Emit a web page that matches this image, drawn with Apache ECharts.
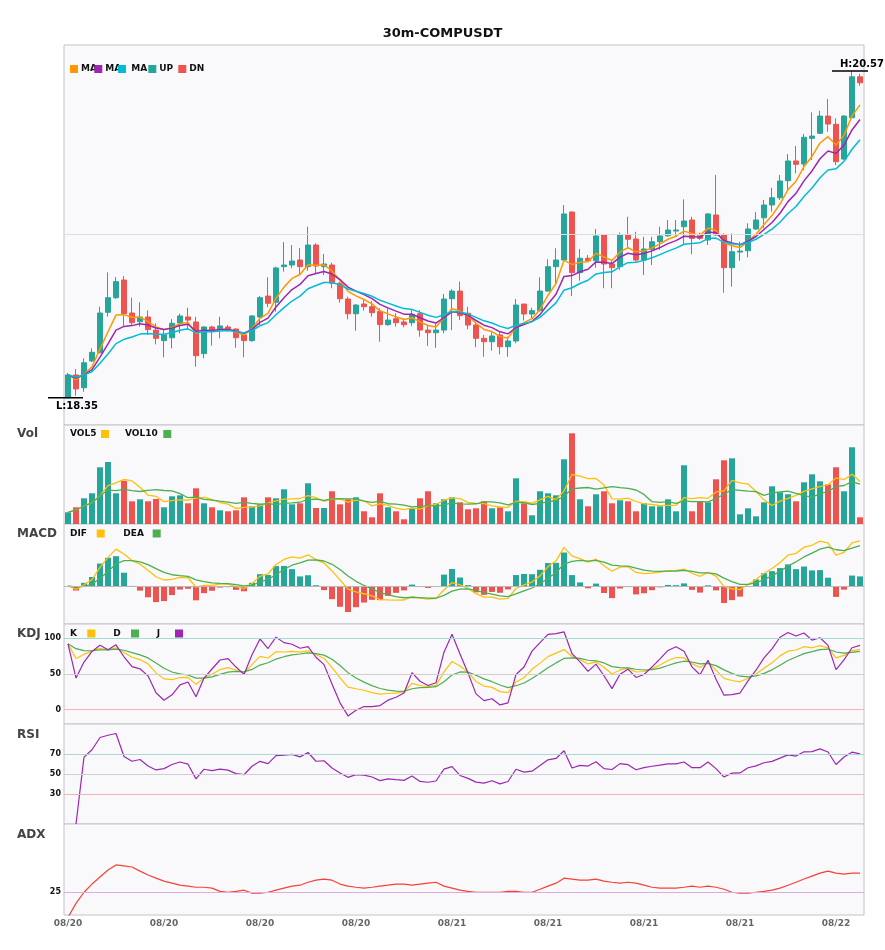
<!DOCTYPE html>
<html><head><meta charset="utf-8">
<script src="https://cdn.jsdelivr.net/npm/echarts@6/dist/echarts.min.js"></script>
<style>html,body{margin:0;padding:0;background:#fff}#c{width:885px;height:950px}</style>
</head><body><div id="c"></div>
<script>
const times = [
'08/20 02:00','08/20 02:30','08/20 03:00','08/20 03:30','08/20 04:00','08/20 04:30','08/20 05:00','08/20 05:30','08/20 06:00','08/20 06:30',
'08/20 07:00','08/20 07:30','08/20 08:00','08/20 08:30','08/20 09:00','08/20 09:30','08/20 10:00','08/20 10:30','08/20 11:00','08/20 11:30',
'08/20 12:00','08/20 12:30','08/20 13:00','08/20 13:30','08/20 14:00','08/20 14:30','08/20 15:00','08/20 15:30','08/20 16:00','08/20 16:30',
'08/20 17:00','08/20 17:30','08/20 18:00','08/20 18:30','08/20 19:00','08/20 19:30','08/20 20:00','08/20 20:30','08/20 21:00','08/20 21:30',
'08/20 22:00','08/20 22:30','08/20 23:00','08/20 23:30','08/21 00:00','08/21 00:30','08/21 01:00','08/21 01:30','08/21 02:00','08/21 02:30',
'08/21 03:00','08/21 03:30','08/21 04:00','08/21 04:30','08/21 05:00','08/21 05:30','08/21 06:00','08/21 06:30','08/21 07:00','08/21 07:30',
'08/21 08:00','08/21 08:30','08/21 09:00','08/21 09:30','08/21 10:00','08/21 10:30','08/21 11:00','08/21 11:30','08/21 12:00','08/21 12:30',
'08/21 13:00','08/21 13:30','08/21 14:00','08/21 14:30','08/21 15:00','08/21 15:30','08/21 16:00','08/21 16:30','08/21 17:00','08/21 17:30',
'08/21 18:00','08/21 18:30','08/21 19:00','08/21 19:30','08/21 20:00','08/21 20:30','08/21 21:00','08/21 21:30','08/21 22:00','08/21 22:30',
'08/21 23:00','08/21 23:30','08/22 00:00','08/22 00:30','08/22 01:00','08/22 01:30','08/22 02:00','08/22 02:30','08/22 03:00','08/22 03:30'];

const opens = [
18.350,18.505,18.418,18.600,18.656,18.931,19.030,19.150,18.926,18.867,
18.899,18.810,18.738,18.758,18.858,18.899,18.865,18.650,18.831,18.817,
18.831,18.817,18.777,18.738,18.899,19.041,18.999,19.241,19.252,19.286,
19.241,19.388,19.241,19.252,19.128,19.021,18.921,18.987,18.969,18.937,
18.847,18.887,18.865,18.860,18.921,18.810,18.792,18.810,19.023,19.075,
18.924,18.844,18.754,18.731,18.777,18.697,18.736,18.987,18.919,18.942,
19.075,19.241,19.286,19.612,19.200,19.298,19.281,19.456,19.259,19.241,
19.456,19.429,19.286,19.359,19.410,19.451,19.483,19.512,19.558,19.456,
19.422,19.592,19.456,19.234,19.340,19.349,19.497,19.573,19.660,19.709,
19.825,19.959,19.938,20.113,20.147,20.264,20.208,19.972,20.253,20.531];

const closes = [
18.505,18.410,18.588,18.659,18.926,19.030,19.139,18.921,18.860,18.899,
18.813,18.754,18.777,18.856,18.906,18.878,18.636,18.831,18.804,18.838,
18.819,18.758,18.738,18.906,19.030,18.992,19.232,19.252,19.279,19.241,
19.388,19.245,19.259,19.128,19.023,18.921,18.980,18.969,18.928,18.847,
18.878,18.860,18.847,18.917,18.810,18.792,18.810,19.021,19.075,18.908,
18.844,18.754,18.731,18.770,18.697,18.736,18.980,18.919,18.942,19.075,
19.241,19.286,19.599,19.200,19.298,19.281,19.449,19.259,19.234,19.456,
19.427,19.286,19.361,19.410,19.449,19.490,19.490,19.551,19.433,19.433,
19.599,19.456,19.234,19.342,19.347,19.497,19.558,19.660,19.709,19.823,
19.959,19.936,20.120,20.128,20.264,20.210,19.954,20.264,20.531,20.490];

const lows = [
18.350,18.364,18.391,18.593,18.652,18.901,19.021,18.838,18.838,18.833,
18.777,18.713,18.625,18.686,18.788,18.810,18.561,18.618,18.704,18.754,
18.799,18.690,18.625,18.731,18.844,18.965,18.935,19.207,19.230,19.191,
19.213,19.191,19.184,19.094,18.996,18.883,18.806,18.942,18.901,18.731,
18.838,18.833,18.829,18.838,18.765,18.702,18.690,18.788,18.810,18.878,
18.815,18.693,18.629,18.670,18.645,18.629,18.720,18.874,18.890,18.935,
19.071,19.128,19.281,19.041,19.145,19.275,19.234,19.094,19.094,19.218,
19.372,19.275,19.184,19.252,19.354,19.444,19.444,19.395,19.325,19.422,
19.388,19.449,19.064,19.105,19.281,19.304,19.490,19.501,19.614,19.694,
19.762,19.875,19.897,19.965,20.142,20.158,19.931,19.965,20.249,20.470];

const highs = [
18.518,18.546,18.618,18.686,18.969,19.202,19.170,19.177,19.030,18.999,
18.944,18.856,18.810,18.885,18.921,18.962,18.901,18.836,18.840,18.901,
18.844,18.822,18.795,18.912,19.041,19.169,19.241,19.408,19.388,19.368,
19.512,19.399,19.327,19.268,19.139,19.037,18.987,19.014,19.007,18.958,
18.958,18.924,18.890,18.946,18.946,18.838,18.856,19.055,19.087,19.139,
18.969,18.856,18.777,18.795,18.795,18.765,19.021,18.987,18.962,19.169,
19.291,19.366,19.660,19.617,19.361,19.320,19.497,19.463,19.286,19.472,
19.580,19.478,19.444,19.444,19.512,19.558,19.558,19.698,19.580,19.472,
19.605,19.864,19.467,19.467,19.410,19.535,19.612,19.694,19.777,19.864,
20.006,20.061,20.142,20.289,20.300,20.380,20.249,20.271,20.570,20.550];

const volumes = [
11.7,16.7,25.7,30.7,56.7,62.0,30.7,43.3,22.7,24.7,
22.7,25.0,16.7,27.7,28.7,20.7,35.7,20.7,16.7,13.7,
12.7,13.7,26.7,17.7,19.3,26.7,25.7,34.7,19.7,20.7,
40.7,16.0,16.0,32.7,19.7,24.7,26.7,12.7,6.7,30.7,
16.7,12.7,4.7,15.0,25.7,32.7,20.7,24.7,26.7,21.7,
14.7,15.7,22.7,15.7,16.7,12.7,45.7,20.7,8.7,32.7,
30.7,28.7,64.7,90.7,24.7,17.7,29.7,32.7,20.7,23.7,
22.7,12.7,20.7,17.7,17.7,24.7,12.7,58.7,12.7,22.7,
21.7,44.7,63.7,65.7,9.7,15.7,7.7,21.7,37.7,31.7,
29.7,22.7,41.7,49.7,42.7,39.7,56.7,32.7,76.7,6.7];

const adxValues = [
14.0,20.1,25.0,28.6,31.7,34.8,37.0,36.6,36.1,34.3,
32.6,31.2,29.9,29.0,28.1,27.7,27.2,27.2,26.8,25.4,
25.0,25.4,25.9,24.6,24.6,25.0,25.9,26.8,27.7,28.1,
29.4,30.3,30.8,30.3,28.6,27.7,27.2,26.8,27.2,27.7,
28.1,28.6,28.6,28.1,28.6,29.0,29.4,27.7,26.8,25.9,
25.4,25.0,25.0,25.0,25.0,25.4,25.4,25.0,25.0,26.3,
27.7,29.0,31.2,30.8,30.3,30.3,30.8,29.9,29.4,29.0,
29.4,29.0,28.1,27.2,26.8,26.8,26.8,27.2,27.7,27.2,
27.7,27.2,26.3,25.0,24.6,24.6,25.0,25.4,25.9,26.8,
28.1,29.4,30.8,32.1,33.4,34.3,33.4,33.0,33.4,33.4];

const maPeriods = [5, 8, 13];
const volPeriods = [5, 10];
const kdjTicks = [0, 50, 100];
const rsiTicks = [30, 50, 70];
const adxTicks = [25];

const UP = '#26a69a', DN = '#ef5350';
const MA_COLORS = ['#ff9800', '#9c27b0', '#00bcd4'];

// ---- derived indicators (computed from the OHLCV arrays) ----
function ema(src, n) { const a = 2 / (n + 1); let p; return src.map((v, i) => (p = i === 0 ? v : p + a * (v - p))); }
function smaPartial(src, n) { return src.map((v, i) => { const s = Math.max(0, i - n + 1); let t = 0; for (let k = s; k <= i; k++) t += src[k]; return t / (i - s + 1); }); }
const mas = maPeriods.map(n => ema(closes, n));
const vmas = volPeriods.map(n => smaPartial(volumes, n));
const fast = ema(closes, 5), slow = ema(closes, 13);
const dif = fast.map((v, i) => v - slow[i]);
const dea = ema(dif, 5);
const hist = dif.map((v, i) => 2 * (v - dea[i]));
const K = [], D = [], J = [];
closes.forEach((c, i) => {
  const s = Math.max(0, i - 8);
  const ll = Math.min(...lows.slice(s, i + 1)), hh = Math.max(...highs.slice(s, i + 1));
  const rsv = hh === ll ? 50 : (c - ll) / (hh - ll) * 100;
  const k = i === 0 ? rsv : K[i - 1] * 2 / 3 + rsv / 3;
  const d = i === 0 ? rsv : D[i - 1] * 2 / 3 + k / 3;
  K.push(k); D.push(d); J.push(3 * k - 2 * d);
});
const rsi = []; { let sg = 0, sl = 0; const b = 13 / 14;
  closes.forEach((c, i) => { if (i === 0) { rsi.push(null); return; }
    const ch = c - closes[i - 1]; sg = Math.max(ch, 0) + b * sg; sl = Math.max(-ch, 0) + b * sl;
    rsi.push(sg + sl === 0 ? 50 : 100 * sg / (sg + sl)); }); }

const candleData = opens.map((o, i) => [o, closes[i], lows[i], highs[i]]);
const volData = volumes.map((v, i) => ({ value: v, itemStyle: { color: closes[i] >= opens[i] ? UP : DN } }));
const histData = hist.map(v => ({ value: v, itemStyle: { color: v >= 0 ? UP : DN } }));

const FONT = '"DejaVu Sans", sans-serif';
const grids = [
  { top: 45, height: 380 }, { top: 425, height: 99 }, { top: 524, height: 100 },
  { top: 624, height: 100 }, { top: 724, height: 100 }, { top: 824, height: 91 }
].map(g => Object.assign({ left: 64, right: 21, show: true, backgroundColor: '#f9f9fb', borderColor: '#c2c2ca', borderWidth: 1 }, g));

const xAxes = grids.map((g, i) => ({
  type: 'category', gridIndex: i, data: times, boundaryGap: true,
  axisLine: { show: false }, axisTick: { show: false }, splitLine: { show: false },
  axisLabel: i === 5 ? { interval: 11, formatter: v => v.slice(0, 5), color: '#666', fontWeight: 'bold', fontSize: 9, margin: 4, fontFamily: FONT } : { show: false }
}));
function tickAxis(idx, min, max, interval, ticks) {
  return { type: 'value', gridIndex: idx, min, max, interval, splitLine: { show: false }, axisLine: { show: false }, axisTick: { show: false },
    axisLabel: { formatter: v => ticks.includes(Math.round(v)) && Math.abs(v - Math.round(v)) < 1e-6 ? String(Math.round(v)) : '', color: '#111', fontWeight: 'bold', fontSize: 8, margin: 3, fontFamily: FONT } };
}
function hiddenAxis(idx, min, max) {
  return { type: 'value', gridIndex: idx, min, max, splitLine: { show: false }, axisLine: { show: false }, axisTick: { show: false }, axisLabel: { show: false } };
}
const yAxes = [
  hiddenAxis(0, 18.165, 20.747), hiddenAxis(1, 0, 99), hiddenAxis(2, -0.2, 0.326),
  tickAxis(3, -20, 120, 10, kdjTicks), tickAxis(4, 0, 100, 10, rsiTicks), tickAxis(5, 15, 55, 5, adxTicks)
];
function line(name, data, color, gi, width, extra) {
  return Object.assign({ name, type: 'line', data, xAxisIndex: gi, yAxisIndex: gi, showSymbol: false, symbol: 'none',
    lineStyle: { color, width: width || 1.2 }, itemStyle: { color }, z: 3 }, extra || {});
}
function refLines(vals, colors) {
  return { silent: true, symbol: 'none', label: { show: false }, animation: false,
    data: vals.map((v, i) => ({ yAxis: v, lineStyle: { color: colors[i], width: 1, type: 'solid' } })) };
}
const series = [
  { name: 'K线', type: 'candlestick', data: candleData, xAxisIndex: 0, yAxisIndex: 0, barWidth: 6,
    itemStyle: { color: UP, color0: DN, borderColor: UP, borderColor0: DN, borderWidth: 1 },
    markLine: refLines([(18.165 + 20.747) / 2], ['#dedede']) },
  ...mas.map((m, i) => line('MA' + maPeriods[i], m, MA_COLORS[i], 0, 1.5)),
  { name: 'Vol', type: 'bar', data: volData, xAxisIndex: 1, yAxisIndex: 1, barWidth: 6 },
  line('VOL5', vmas[0], '#ffc107', 1, 1.3), line('VOL10', vmas[1], '#4caf50', 1, 1.3),
  { name: 'MACD', type: 'bar', data: histData, xAxisIndex: 2, yAxisIndex: 2, barWidth: 6,
    markLine: refLines([0], ['#b8b8b8']) },
  line('DIF', dif, '#ffc107', 2, 1.3), line('DEA', dea, '#4caf50', 2, 1.3),
  line('K', K, '#ffc107', 3, 1.2, { markLine: refLines(kdjTicks, ['#f4b4b4', '#cfcfcf', '#a6d9d3']) }),
  line('D', D, '#4caf50', 3, 1.2), line('J', J, '#9c27b0', 3, 1.2),
  line('RSI', rsi, '#9c27b0', 4, 1.2, { markLine: refLines(rsiTicks, ['#f4b4b4', '#cfcfcf', '#a6d9d3']) }),
  line('ADX', adxValues, '#f44336', 5, 1.2, { markLine: refLines(adxTicks, ['#dcaee0']) })
];

const G = [];
function txt(x, y, s, font, fill, align) { G.push({ type: 'text', x, y, z: 100, style: { text: s, font, fill, textAlign: align || 'left', textVerticalAlign: 'middle' } }); }
function sq(x, y, fill) { G.push({ type: 'rect', z: 101, shape: { x, y: y - 4, width: 8, height: 8 }, style: { fill } }); }
const LF = 'bold 9px ' + FONT;
txt(442.5, 34, '30m-COMPUSDT', 'bold 13px ' + FONT, '#111', 'center');
[['Vol', 434], ['MACD', 534], ['KDJ', 634], ['RSI', 735], ['ADX', 835]].forEach(p => txt(17, p[1], p[0], 'bold 12px ' + FONT, '#444'));
// main legend
sq(70, 69, MA_COLORS[0]); txt(81, 69, 'MA', LF, '#111');
sq(94.3, 69, MA_COLORS[1]); txt(105.3, 69, 'MA', LF, '#111');
sq(118, 69, MA_COLORS[2]); txt(131.3, 69, 'MA', LF, '#111');
sq(148.3, 69, UP); txt(159.3, 69, 'UP', LF, '#111');
sq(178.3, 69, DN); txt(189.3, 69, 'DN', LF, '#111');
// vol legend
txt(70, 434, 'VOL5', LF, '#111'); sq(101, 434, '#ffc107');
txt(125, 434, 'VOL10', LF, '#111'); sq(163.3, 434, '#4caf50');
// macd legend
txt(70, 533.5, 'DIF', LF, '#111'); sq(96.7, 533.5, '#ffc107');
txt(123.3, 533.5, 'DEA', LF, '#111'); sq(152.7, 533.5, '#4caf50');
// kdj legend
txt(70, 633.5, 'K', LF, '#111'); sq(87.3, 633.5, '#ffc107');
txt(113.3, 633.5, 'D', LF, '#111'); sq(131, 633.5, '#4caf50');
txt(156.7, 633.5, 'J', LF, '#111'); sq(175, 633.5, '#9c27b0');

const chart = echarts.init(document.getElementById('c'));
chart.setOption({
  animation: false, backgroundColor: '#ffffff', textStyle: { fontFamily: FONT },
  grid: grids, xAxis: xAxes, yAxis: yAxes, series, graphic: G
});

// H / L annotations placed from the data through the axis scales
const iMin = lows.indexOf(Math.min(...lows)), iMax = highs.indexOf(Math.max(...highs));
const pL = chart.convertToPixel({ gridIndex: 0 }, [iMin, lows[iMin]]);
const pH = chart.convertToPixel({ gridIndex: 0 }, [iMax, highs[iMax]]);
const HL = [
  { type: 'line', z: 102, shape: { x1: pL[0] - 20, y1: pL[1], x2: pL[0] + 15, y2: pL[1] }, style: { stroke: '#000', lineWidth: 1.5 } },
  { type: 'text', z: 102, x: pL[0] - 12, y: pL[1] + 9, style: { text: 'L:' + lows[iMin].toFixed(2), font: 'bold 10px ' + FONT, fill: '#000', textVerticalAlign: 'middle' } },
  { type: 'line', z: 102, shape: { x1: pH[0] - 20, y1: pH[1], x2: pH[0] + 16, y2: pH[1] }, style: { stroke: '#000', lineWidth: 1.5 } },
  { type: 'text', z: 102, x: pH[0] - 12, y: pH[1] - 7, style: { text: 'H:' + highs[iMax].toFixed(2), font: 'bold 10px ' + FONT, fill: '#000', textVerticalAlign: 'middle' } }
];
chart.setOption({ graphic: G.concat(HL) });
</script></body></html>
